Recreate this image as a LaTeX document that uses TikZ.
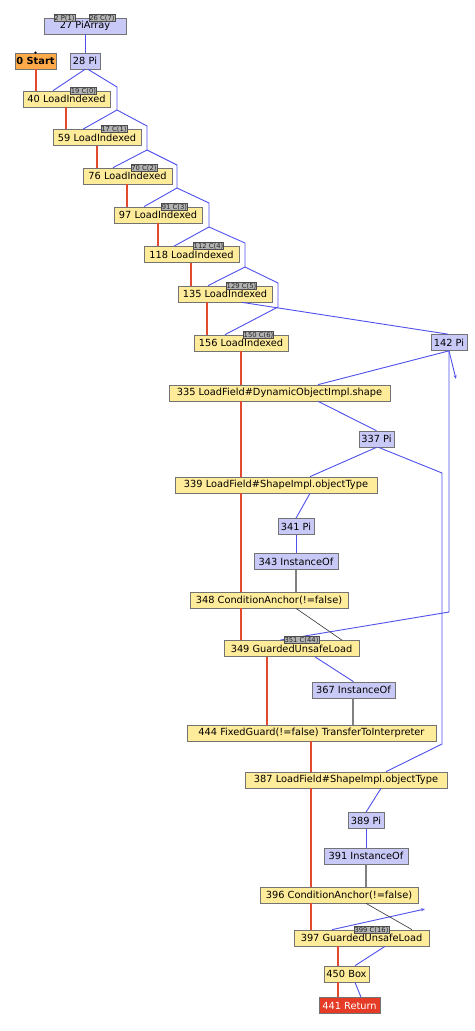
\documentclass[tikz,border=0pt]{standalone}
\usepackage{fontspec}
\setmainfont{DejaVu Sans}
\usetikzlibrary{positioning, arrows.meta, calc}
\definecolor{fixedfill}{HTML}{FFEC9A}
\definecolor{floatfill}{HTML}{C9C9F7}
\definecolor{startfill}{HTML}{FFAA48}
\definecolor{retfill}{HTML}{E63B26}
\definecolor{ctrlred}{HTML}{E24A30}
\definecolor{datablue}{HTML}{5050EE}

\begin{document}
\begin{tikzpicture}[x=1pt, y=-1pt,
  every node/.style={font=\fontsize{9.8}{11}\selectfont},
  irnode/.style={draw=black!55, line width=0.7pt, inner sep=0pt, minimum height=16pt,
                 anchor=center, text=black},
  fixed/.style={irnode, fill=fixedfill},
  floating/.style={irnode, fill=floatfill},
  startnode/.style={irnode, fill=startfill, font=\fontsize{9.8}{11}\selectfont\bfseries},
  retnode/.style={irnode, fill=retfill, text=white},
  tag/.style={draw=black!70, fill=black!30, inner sep=0.4pt, line width=0.4pt,
              font=\fontsize{6.8}{7}\selectfont, text=black!85},
  cf/.style={draw=ctrlred, line width=1.5pt},
  df/.style={draw=datablue, line width=0.9pt},
  gf/.style={draw=black!50, line width=1.3pt},
  af/.style={draw=black!80, line width=0.6pt},
  tip/.style={-{Stealth[length=4pt, width=3pt]}}]

\useasboundingbox[fill=white] (0,0) rectangle (474,1031);

% nodes
\node[floating, minimum width=82] (pa27) at (85,26) {27 PiArray};
\node[startnode, minimum width=41] (start) at (35.5,61) {0 Start};
\node[floating, minimum width=30] (pi28) at (85,61) {28 Pi};
\node[fixed, minimum width=87] (li40) at (66.5,99) {40 LoadIndexed};
\node[fixed, minimum width=88] (li59) at (97,137.5) {59 LoadIndexed};
\node[fixed, minimum width=89] (li76) at (127.5,176) {76 LoadIndexed};
\node[fixed, minimum width=88] (li97) at (158,215) {97 LoadIndexed};
\node[fixed, minimum width=95] (li118) at (191.5,254.5) {118 LoadIndexed};
\node[fixed, minimum width=94] (li135) at (225,294) {135 LoadIndexed};
\node[fixed, minimum width=94] (li156) at (241,343) {156 LoadIndexed};
\node[floating, minimum width=36] (pi142) at (449,342.5) {142 Pi};
\node[fixed, minimum width=221] (lf335) at (279.5,393) {335 LoadField\#DynamicObjectImpl.shape};
\node[floating, minimum width=35] (pi337) at (376.5,439) {337 Pi};
\node[fixed, minimum width=202] (lf339) at (276,485) {339 LoadField\#ShapeImpl.objectType};
\node[floating, minimum width=36] (pi341) at (296,526.5) {341 Pi};
\node[floating, minimum width=84] (io343) at (296,561.5) {343 InstanceOf};
\node[fixed, minimum width=158] (ca348) at (269,600) {348 ConditionAnchor(!=false)};
\node[fixed, minimum width=135] (gul349) at (291.5,648.5) {349 GuardedUnsafeLoad};
\node[floating, minimum width=83] (io367) at (353.5,690) {367 InstanceOf};
\node[fixed, minimum width=249] (fg444) at (311.5,733) {444 FixedGuard(!=false) TransferToInterpreter};
\node[fixed, minimum width=202] (lf387) at (346,780) {387 LoadField\#ShapeImpl.objectType};
\node[floating, minimum width=36] (pi389) at (366,820.5) {389 Pi};
\node[floating, minimum width=84] (io391) at (366,856) {391 InstanceOf};
\node[fixed, minimum width=158] (ca396) at (339,895) {396 ConditionAnchor(!=false)};
\node[fixed, minimum width=135] (gul397) at (361.5,938) {397 GuardedUnsafeLoad};
\node[fixed, minimum width=45] (box450) at (346.5,974) {450 Box};
\node[retnode, minimum width=61] (ret441) at (349.5,1005.5) {441 Return};

\fill[black] (start.north) circle (1.3pt);

% bend points of the data edges
\coordinate (k1) at (117,87);  \coordinate (f1) at (117,110);
\coordinate (k2) at (147,126); \coordinate (f2) at (147,150);
\coordinate (k3) at (177,165); \coordinate (f3) at (177,188);
\coordinate (k4) at (209,203); \coordinate (f4) at (209,227);
\coordinate (k5) at (245,243); \coordinate (f5) at (245,267);
\coordinate (k6) at (278,283); \coordinate (f6) at (278,307);
\coordinate (b1) at (449,612);
\coordinate (b2) at (442,473);
\coordinate (b3) at (442,744);
\coordinate (d1) at (456,379);
\coordinate (d2) at (425,909);

% control flow
\draw[cf] ([xshift=0.5]start.south) -- ([xshift=0.5]start.south |- li40.north);
\draw[cf] ([xshift=-0.5]li40.south) -- ([xshift=-0.5]li40.south |- li59.north);
\draw[cf] (li59.south) -- (li59.south |- li76.north);
\draw[cf] ([xshift=-0.5]li76.south) -- ([xshift=-0.5]li76.south |- li97.north);
\draw[cf] (li97.south) -- (li97.south |- li118.north);
\draw[cf] ([xshift=-0.5]li118.south) -- ([xshift=-0.5]li118.south |- li135.north);
\draw[cf] ([xshift=-18]li135.south) -- ([xshift=-18]li135.south |- li156.north);
\draw[cf] (li156.south) -- (li156.south |- lf335.north);
\draw[cf] ([xshift=-38.5]lf335.south) -- ([xshift=-38.5]lf335.south |- lf339.north);
\draw[cf] ([xshift=-35]lf339.south) -- ([xshift=-35]lf339.south |- ca348.north);
\draw[cf] ([xshift=-28]ca348.south) -- ([xshift=-28]ca348.south |- gul349.north);
\draw[cf] ([xshift=-24.5]gul349.south) -- ([xshift=-24.5]gul349.south |- fg444.north);
\draw[cf] ([xshift=-0.5]fg444.south) -- ([xshift=-0.5]fg444.south |- lf387.north);
\draw[cf] ([xshift=-35]lf387.south) -- ([xshift=-35]lf387.south |- ca396.north);
\draw[cf] ([xshift=-28]ca396.south) -- ([xshift=-28]ca396.south |- gul397.north);
\draw[cf] ([xshift=-23.5]gul397.south) -- ([xshift=-23.5]gul397.south |- box450.north);
\draw[cf] ([xshift=-8.5]box450.south) -- ([xshift=-8.5]box450.south |- ret441.north);

% data flow
\draw[df] (pa27.south) -- (pi28.north);
\draw[df] (pi28.south) -- ([xshift=-13.5]li40.north);
\draw[df] ([xshift=3]pi28.south) -- (k1) -- (f1) -- ([xshift=-14]li59.north);
\draw[df] (f1) -- (k2) -- (f2) -- ([xshift=-14.5]li76.north);
\draw[df] (f2) -- (k3) -- (f3) -- ([xshift=-14]li97.north);
\draw[df] (f3) -- (k4) -- (f4) -- ([xshift=-17.5]li118.north);
\draw[df] (f4) -- (k5) -- (f5) -- ([xshift=-17]li135.north);
\draw[df] (f5) -- (k6) -- (f6) -- ([xshift=-16]li156.north);
\draw[df] ([xshift=17]li135.south) -- ([xshift=-1]pi142.north);
\draw[df] (pi142.south) -- ([xshift=38.5]lf335.north);
\draw[df, tip] (pi142.south) -- (d1);
\draw[df] (pi142.south) -- (pi142.south |- b1) -- ([xshift=-11.5]gul349.north);
\draw[df] ([xshift=38.5]lf335.south) -- (pi337.north);
\draw[df] (pi337.south) -- ([xshift=34]lf339.north);
\draw[df] ([xshift=2]pi337.south) -- (b2) -- (b3) -- ([xshift=40]lf387.north);
\draw[df] ([xshift=34]lf339.south) -- (pi341.north);
\draw[df] (pi341.south) -- (io343.north);
\draw[df] ([xshift=23.5]gul349.south) -- (io367.north);
\draw[df] ([xshift=35]lf387.south) -- (pi389.north);
\draw[df] (pi389.south) -- (io391.north);
\draw[df, tip] ([xshift=-29.5]gul397.north) -- (d2);
\draw[df] ([xshift=23.5]gul397.south) -- ([xshift=8.5]box450.north);
\draw[df] ([xshift=8.5]box450.south) -- ([xshift=11.5]ret441.north);

% conditions and anchors
\draw[gf] (io343.south) -- (io343.south |- ca348.north);
\draw[gf] ([xshift=-0.5]io367.south) -- ([xshift=-0.5]io367.south |- fg444.north);
\draw[gf] (io391.south) -- (io391.south |- ca396.north);
\draw[af] ([xshift=27]ca348.south) -- ([xshift=50.5]gul349.north);
\draw[af] ([xshift=27]ca396.south) -- ([xshift=50.5]gul397.north);

% slot tags
\node[tag] (t2) at (64.5,18) {2 P(1)};
\node[tag] (t26) at (102,18) {26 C(7)};
\node[tag] (t19) at (83.5,91) {19 C(0)};
\node[tag] (t17) at (114,129) {17 C(1)};
\node[tag] (t70) at (144,168) {70 C(2)};
\node[tag] (t91) at (174.5,207) {91 C(3)};
\node[tag] (t112) at (208.5,246) {112 C(4)};
\node[tag] (t129) at (241.5,286) {129 C(5)};
\node[tag] (t150) at (258.5,335) {150 C(6)};
\node[tag] (t351) at (301.5,640) {351 C(44)};
\node[tag] (t399) at (371.5,930) {399 C(16)};
\end{tikzpicture}
\end{document}
